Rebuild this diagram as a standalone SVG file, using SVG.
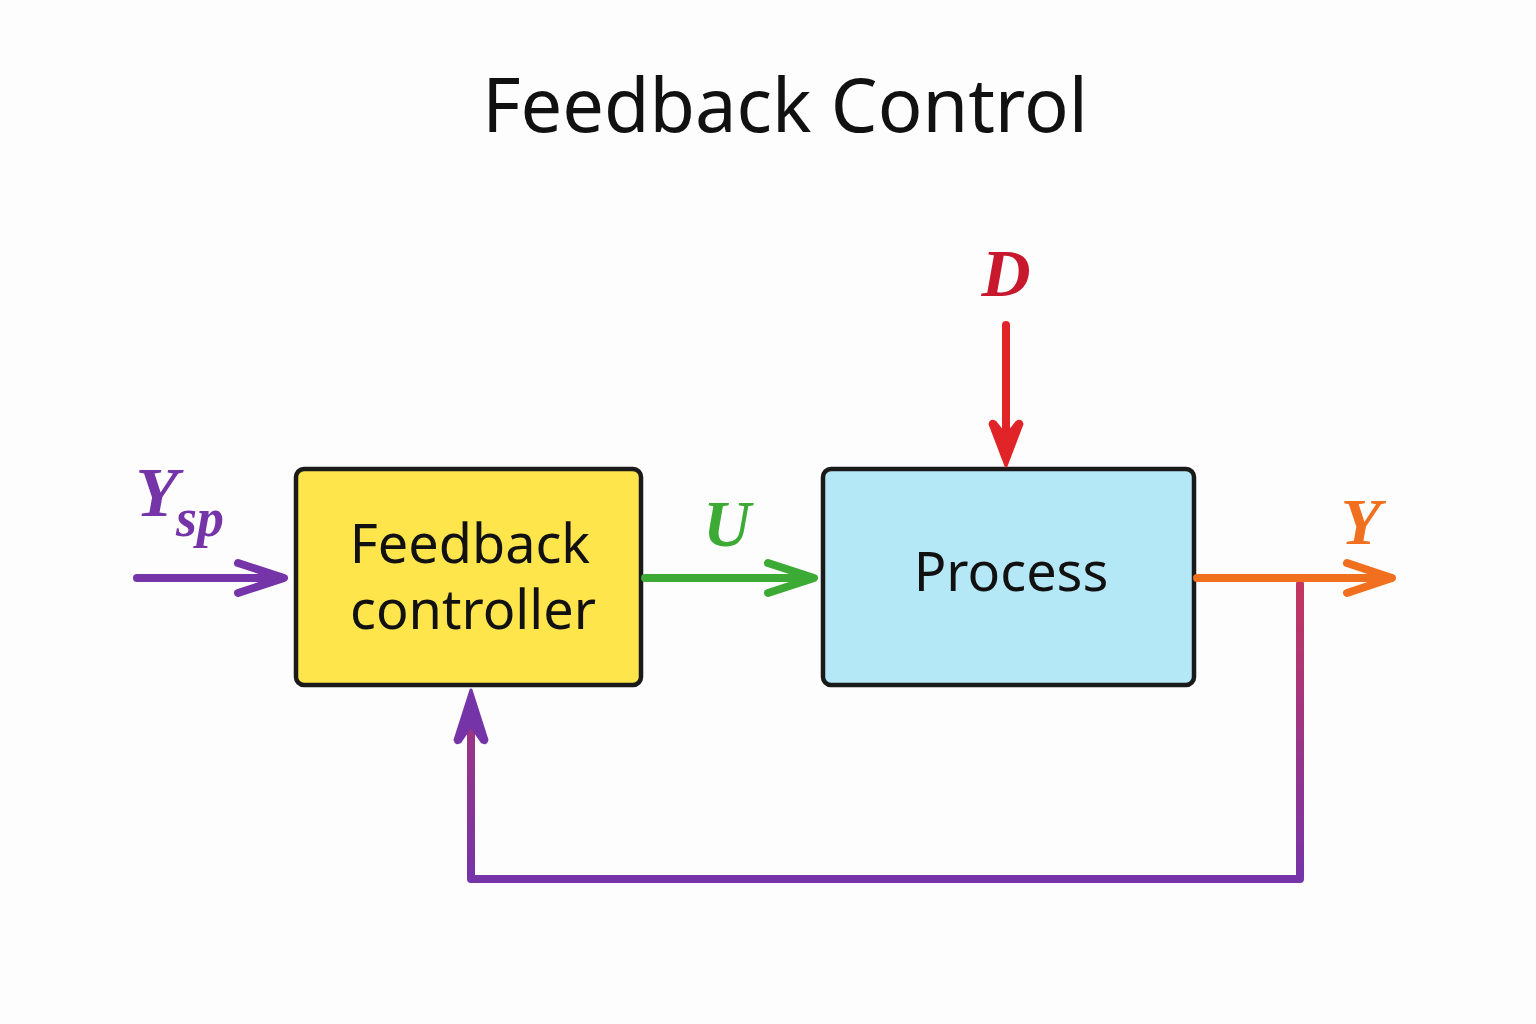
<svg xmlns="http://www.w3.org/2000/svg" width="1536" height="1024" viewBox="0 0 1536 1024">
<defs>
<style>
.box{stroke:#1a1a1a;stroke-width:4.5}
.lbl{font-family:"Noto Sans","Open Sans",sans-serif;fill:#111;text-anchor:middle}
.var{font-family:"Liberation Serif","DejaVu Serif",serif;font-style:italic;font-weight:bold;text-anchor:middle}
.wire{fill:none;stroke-width:8;stroke-linecap:round;stroke-linejoin:round}
</style>
<linearGradient id="fb" x1="0" y1="582" x2="0" y2="880" gradientUnits="userSpaceOnUse">
<stop offset="0" stop-color="#C4375F"/>
<stop offset="1" stop-color="#7534A8"/>
</linearGradient>
</defs>
<rect width="1536" height="1024" fill="#fdfdfd"/>
<text x="785" y="132" class="lbl" font-size="74">Feedback Control</text>

<g id="controller">
<rect class="box" x="296" y="469" width="345" height="216" rx="8" fill="#FDE54B"/>
<text class="lbl" font-size="54"><tspan x="470" y="563">Feedback</tspan><tspan x="473" y="629">controller</tspan></text>
</g>
<g id="process">
<rect class="box" x="823" y="469" width="371" height="216" rx="8" fill="#B5E8F7"/>
<text class="lbl" x="1011" y="591" font-size="54">Process</text>
</g>

<g id="labels">
<text class="var" x="157" y="516" font-size="70" fill="#7534A8">Y</text>
<text class="var" x="200" y="536" font-size="54" fill="#7534A8" font-weight="normal">sp</text>
<text class="var" x="727" y="546" font-size="66" fill="#3DAA35">U</text>
<text class="var" x="1006" y="296" font-size="68" fill="#C8182E">D</text>
<text class="var" x="1361" y="544" font-size="66" fill="#F07020">Y</text>
</g>

<g id="connectors">
<path class="wire" stroke="#7534A8" d="M137 578 H282 M238 563 L284 578 L238 593"/>
<path class="wire" stroke="#3DAA35" d="M645 578 H812 M768 563 L814 578 L768 593"/>
<path class="wire" stroke="#E02428" stroke-width="7" d="M1006 325 V455"/>
<path fill="#E02428" stroke="#E02428" stroke-width="3" stroke-linejoin="round" d="M1006 466 L990 424 Q991 420 995 422 L1006 436 L1017 422 Q1021 420 1022 424 Z"/>
<path class="wire" stroke="url(#fb)" d="M1300 584 V879 H471 V708"/>
<path fill="#7534A8" stroke="#7534A8" stroke-width="3" stroke-linejoin="round" d="M471 690 L455 740 Q456 744 460 742 L471 726 L482 742 Q486 744 487 740 Z"/>
<path class="wire" stroke="#F07020" d="M1197 578 H1390 M1347 563 L1392 578 L1347 593"/>
</g>
</svg>
